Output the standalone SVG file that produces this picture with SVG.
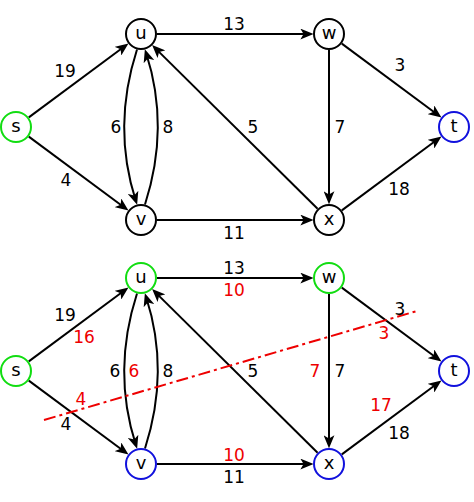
<svg xmlns="http://www.w3.org/2000/svg" width="474" height="502" viewBox="0 0 474 502">
<style>
text{font-family:"DejaVu Sans","Liberation Sans",sans-serif;font-size:17px;text-anchor:middle;fill:#000}
.n{font-size:18px}
.r{fill:#ee0000}
circle{fill:#fff;stroke:#000;stroke-width:2}
.g{stroke:#11dd11}
.b{stroke:#1111dd}
.e{fill:none;stroke:#000;stroke-width:2;marker-end:url(#ah)}
.cut{fill:none;stroke:#ee0000;stroke-width:2;stroke-dasharray:12,4,3,4}
</style>
<defs>
<marker id="ah" viewBox="0 0 12 10" refX="8" refY="5" markerWidth="13" markerHeight="11" markerUnits="userSpaceOnUse" orient="auto">
<path d="M0,0 L12,5 L0,10 L3,5 z" fill="#000"/>
</marker>
</defs>
<g id="connectors">
<path class="e" d="M28.8,117.4 L125,46"/>
<path class="e" d="M28.8,136.6 L125,208"/>
<path class="e" d="M157,34 L309,34"/>
<path class="e" d="M157,220 L309,220"/>
<path class="e" d="M341.8,43.6 L438,115"/>
<path class="e" d="M341.8,210.4 L438,139"/>
<path class="e" d="M329,50 L329,200"/>
<path class="e" d="M317.6,208.7 L155.2,48.1"/>
<path class="e" d="M137,49.5 Q112,127 135.8,200.7"/>
<path class="e" d="M145,204.5 Q170,127 146.2,53.3"/>
<path class="e" d="M28.8,361.4 L125,290"/>
<path class="e" d="M28.8,380.6 L125,452"/>
<path class="e" d="M157,278 L309,278"/>
<path class="e" d="M157,464 L309,464"/>
<path class="e" d="M341.8,287.6 L438,359"/>
<path class="e" d="M341.8,454.4 L438,383"/>
<path class="e" d="M329,294 L329,444"/>
<path class="e" d="M317.6,452.7 L155.2,292.1"/>
<path class="e" d="M137,293.5 Q112,371 135.8,444.7"/>
<path class="e" d="M145,448.5 Q170,371 146.2,297.3"/>
<path class="cut" d="M44,420 L417,311"/>
</g>
<g id="labels">
<text x="234" y="30">13</text>
<text x="65" y="77">19</text>
<text x="66" y="186">4</text>
<text x="116" y="133">6</text>
<text x="168" y="133">8</text>
<text x="253" y="133">5</text>
<text x="340" y="133">7</text>
<text x="400" y="71">3</text>
<text x="399" y="195">18</text>
<text x="234" y="239">11</text>
<text x="234" y="274">13</text>
<text class="r" x="234" y="296">10</text>
<text x="65" y="321">19</text>
<text class="r" x="84" y="343">16</text>
<text x="115" y="377">6</text>
<text class="r" x="134" y="377">6</text>
<text x="168" y="377">8</text>
<text class="r" x="81" y="405">4</text>
<text x="66" y="430">4</text>
<text x="253" y="377">5</text>
<text class="r" x="315" y="377">7</text>
<text x="340" y="377">7</text>
<text x="400" y="315">3</text>
<text class="r" x="384" y="339">3</text>
<text class="r" x="381" y="411">17</text>
<text x="399" y="439">18</text>
<text class="r" x="234" y="461">10</text>
<text x="234" y="483">11</text>
</g>
<g id="s1"><circle class="g" cx="16" cy="127" r="15"/><text class="n" x="16" y="132">s</text></g>
<g id="u1"><circle cx="141" cy="34" r="15"/><text class="n" x="141" y="39">u</text></g>
<g id="v1"><circle cx="141" cy="220" r="15"/><text class="n" x="141" y="225">v</text></g>
<g id="w1"><circle cx="329" cy="34" r="15"/><text class="n" x="329" y="39">w</text></g>
<g id="x1"><circle cx="329" cy="220" r="15"/><text class="n" x="329" y="225">x</text></g>
<g id="t1"><circle class="b" cx="454" cy="127" r="15"/><text class="n" x="454" y="132">t</text></g>
<g id="s2"><circle class="g" cx="16" cy="371" r="15"/><text class="n" x="16" y="376">s</text></g>
<g id="u2"><circle class="g" cx="141" cy="278" r="15"/><text class="n" x="141" y="283">u</text></g>
<g id="v2"><circle class="b" cx="141" cy="464" r="15"/><text class="n" x="141" y="469">v</text></g>
<g id="w2"><circle class="g" cx="329" cy="278" r="15"/><text class="n" x="329" y="283">w</text></g>
<g id="x2"><circle class="b" cx="329" cy="464" r="15"/><text class="n" x="329" y="469">x</text></g>
<g id="t2"><circle class="b" cx="454" cy="371" r="15"/><text class="n" x="454" y="376">t</text></g>
</svg>
